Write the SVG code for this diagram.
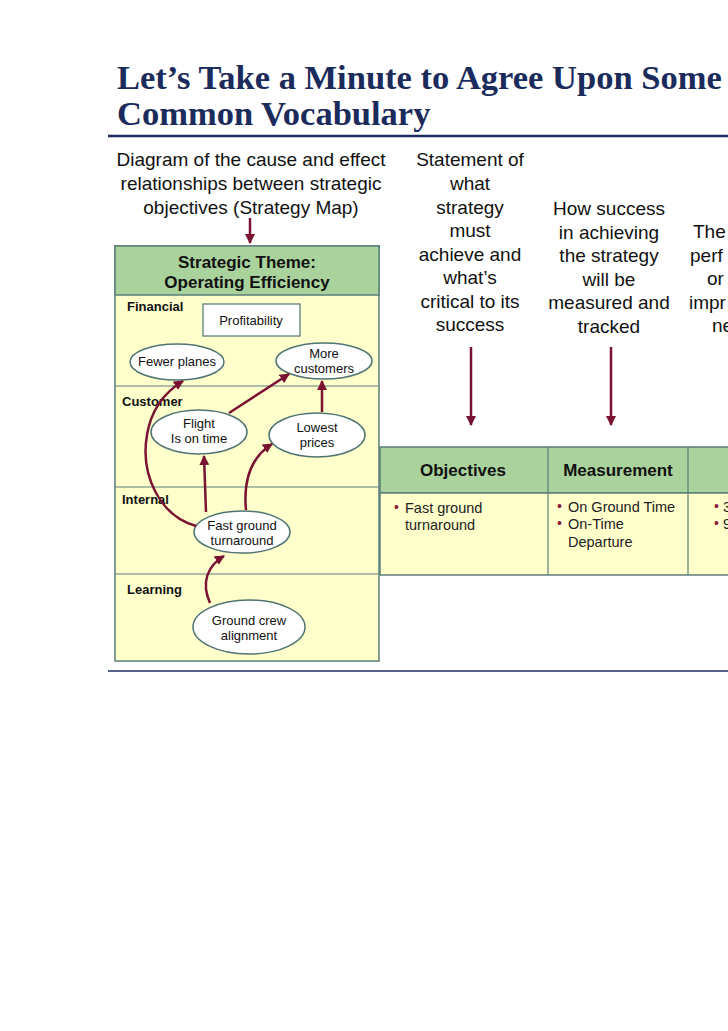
<svg xmlns="http://www.w3.org/2000/svg" width="728" height="1031" viewBox="0 0 728 1031">
<style>
.title{font-family:"Liberation Serif","Times New Roman",serif;font-weight:bold;font-size:34.5px;fill:#1b2b5c}
.desc{font-family:"Liberation Sans",Arial,sans-serif;font-size:19px;fill:#111;text-anchor:middle}
.descl{font-family:"Liberation Sans",Arial,sans-serif;font-size:19px;fill:#111}
.node{font-family:"Liberation Sans",Arial,sans-serif;font-size:13px;fill:#111;text-anchor:middle}
.lab{font-family:"Liberation Sans",Arial,sans-serif;font-size:13px;font-weight:bold;fill:#111}
.hdr{font-family:"Liberation Sans",Arial,sans-serif;font-size:17px;font-weight:bold;fill:#111;text-anchor:middle}
.body{font-family:"Liberation Sans",Arial,sans-serif;font-size:14.5px;fill:#222}
.bul{font-family:"Liberation Sans",Arial,sans-serif;font-size:14px;fill:#8b1a3a}
.ell{fill:#fff;stroke:#4f7473;stroke-width:1.5}
.conn{fill:none;stroke:#7a1232;stroke-width:2.5}
.green{fill:#a9d29c;stroke:#5b7f7a;stroke-width:1.5}
.yellow{fill:#ffffcc;stroke:#5b7f7a;stroke-width:1.5}
.div{stroke:#5b7f7a;stroke-width:1.2}
</style>
<defs>
<marker id="ah" viewBox="0 0 10 10" refX="9" refY="5" markerWidth="4" markerHeight="4" orient="auto" markerUnits="strokeWidth">
<path d="M0,0 L10,5 L0,10 z" fill="#7a1232"/>
</marker>
</defs>
<rect width="728" height="1031" fill="#fff"/>
<g id="title">
<text class="title" x="117" y="89">Let’s Take a Minute to Agree Upon Some</text>
<text class="title" x="117" y="125">Common Vocabulary</text>
<line x1="108" y1="136" x2="728" y2="136" stroke="#1b2b5c" stroke-width="2.5"/>
<line x1="108" y1="671" x2="728" y2="671" stroke="#1b2b5c" stroke-width="1.5"/>
</g>
<g id="desc-map">
<text class="desc" x="251" y="166">Diagram of the cause and effect</text>
<text class="desc" x="251" y="190">relationships between strategic</text>
<text class="desc" x="251" y="214">objectives (Strategy Map)</text>
</g>
<g id="desc-objectives">
<text class="desc" x="470" y="166">Statement of</text>
<text class="desc" x="470" y="190">what</text>
<text class="desc" x="470" y="214">strategy</text>
<text class="desc" x="470" y="237">must</text>
<text class="desc" x="470" y="261">achieve and</text>
<text class="desc" x="470" y="284">what’s</text>
<text class="desc" x="470" y="308">critical to its</text>
<text class="desc" x="470" y="331">success</text>
</g>
<g id="desc-measurement">
<text class="desc" x="609" y="215">How success</text>
<text class="desc" x="609" y="239">in achieving</text>
<text class="desc" x="609" y="262">the strategy</text>
<text class="desc" x="609" y="286">will be</text>
<text class="desc" x="609" y="309">measured and</text>
<text class="desc" x="609" y="333">tracked</text>
</g>
<g id="desc-targets">
<text class="descl" x="693" y="238">The</text>
<text class="descl" x="690" y="262">perf</text>
<text class="descl" x="707" y="285">or</text>
<text class="descl" x="689" y="309">impr</text>
<text class="descl" x="712" y="332">ne</text>
</g>
<g id="strategy-map">
<rect class="yellow" x="115" y="246" width="264" height="415"/>
<rect class="green" x="115" y="246" width="264" height="49"/>
<text class="hdr" x="247" y="268">Strategic Theme:</text>
<text class="hdr" x="247" y="288">Operating Efficiency</text>
<line class="div" x1="115" y1="386" x2="379" y2="386"/>
<line class="div" x1="115" y1="487" x2="379" y2="487"/>
<line class="div" x1="115" y1="574" x2="379" y2="574"/>
<text class="lab" x="127" y="311">Financial</text>
<text class="lab" x="122" y="406">Customer</text>
<text class="lab" x="122" y="504">Internal</text>
<text class="lab" x="127" y="594">Learning</text>
</g>
<g id="profitability">
<rect x="203" y="304" width="97" height="32" fill="#fff" stroke="#4f7473" stroke-width="1.2"/>
<text class="node" x="251" y="325">Profitability</text>
</g>
<g id="fewer-planes">
<ellipse class="ell" cx="177" cy="362" rx="47" ry="18"/>
<text class="node" x="177" y="366">Fewer planes</text>
</g>
<g id="more-customers">
<ellipse class="ell" cx="324" cy="361" rx="48" ry="18"/>
<text class="node" x="324" y="358">More</text>
<text class="node" x="324" y="373">customers</text>
</g>
<g id="flight-on-time">
<ellipse class="ell" cx="199" cy="432" rx="48" ry="22"/>
<text class="node" x="199" y="428">Flight</text>
<text class="node" x="199" y="443">Is on time</text>
</g>
<g id="lowest-prices">
<ellipse class="ell" cx="317" cy="435" rx="48" ry="22"/>
<text class="node" x="317" y="432">Lowest</text>
<text class="node" x="317" y="447">prices</text>
</g>
<g id="fast-ground">
<ellipse class="ell" cx="242" cy="532" rx="48" ry="21"/>
<text class="node" x="242" y="530">Fast ground</text>
<text class="node" x="242" y="545">turnaround</text>
</g>
<g id="ground-crew">
<ellipse class="ell" cx="249" cy="627" rx="56" ry="27"/>
<text class="node" x="249" y="625">Ground crew</text>
<text class="node" x="249" y="640">alignment</text>
</g>
<g id="table">
<rect class="green" x="380" y="447" width="360" height="46"/>
<rect class="yellow" x="380" y="493" width="360" height="82"/>
<line class="div" x1="548" y1="447" x2="548" y2="575"/>
<line class="div" x1="688" y1="447" x2="688" y2="575"/>
<text class="hdr" x="463" y="476">Objectives</text>
<text class="hdr" x="618" y="476">Measurement</text>
<text class="bul" x="394" y="512">•</text>
<text class="body" x="405" y="513">Fast ground</text>
<text class="body" x="405" y="530">turnaround</text>
<text class="bul" x="557" y="511">•</text>
<text class="body" x="568" y="512">On Ground Time</text>
<text class="bul" x="557" y="528">•</text>
<text class="body" x="568" y="529">On-Time</text>
<text class="body" x="568" y="547">Departure</text>
<text class="bul" x="714" y="511">•</text>
<text class="body" x="723" y="512">3</text>
<text class="bul" x="714" y="528">•</text>
<text class="body" x="723" y="529">9</text>
</g>
<g id="connectors">
<line class="conn" x1="250" y1="218" x2="250" y2="243" marker-end="url(#ah)"/>
<line class="conn" x1="471" y1="347" x2="471" y2="425" marker-end="url(#ah)"/>
<line class="conn" x1="611" y1="347" x2="611" y2="425" marker-end="url(#ah)"/>
<path class="conn" d="M196,526 C160,516 140,475 147,435 C151,410 165,392 183,381" marker-end="url(#ah)"/>
<line class="conn" x1="229" y1="413" x2="289" y2="374" marker-end="url(#ah)"/>
<line class="conn" x1="322" y1="412" x2="322" y2="381" marker-end="url(#ah)"/>
<line class="conn" x1="206" y1="512" x2="204" y2="456" marker-end="url(#ah)"/>
<path class="conn" d="M246,510 C243,478 253,456 272,444" marker-end="url(#ah)"/>
<path class="conn" d="M210,603 C201,583 207,566 224,556" marker-end="url(#ah)"/>
</g>
</svg>
